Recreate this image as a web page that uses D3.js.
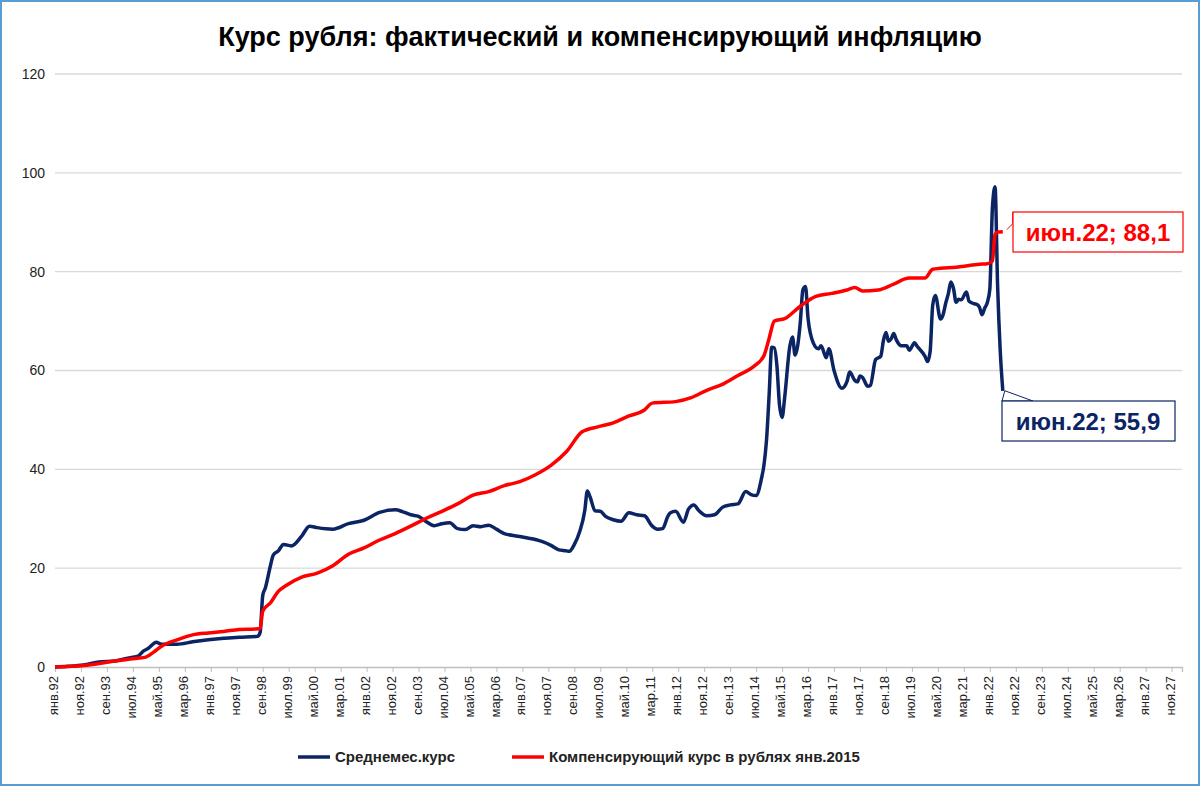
<!DOCTYPE html>
<html><head><meta charset="utf-8">
<script src="https://cdn.jsdelivr.net/npm/d3@7"></script>
<style>
body{margin:0;background:#fff;font-family:"Liberation Sans",Arial,sans-serif;}
</style></head>
<body><svg id="c" width="1200" height="786"></svg>
<script>
const START = new Date(1992, 0, 1);
const mIdx = s => { const [y, m] = s.split('-').map(Number); return (y - 1992) * 12 + (m - 1); };
const MONTHS = ['янв','фев','мар','апр','май','июн','июл','авг','сен','окт','ноя','дек'];

const blueDates = ['1992-01','1992-06','1992-12','1993-06','1993-12','1994-06','1994-09','1994-11','1995-01','1995-04','1995-06','1995-12','1996-06','1996-12','1997-06','1997-12','1998-07','1998-08','1998-09','1998-10','1998-12','1999-01','1999-03','1999-05','1999-08','1999-12','2000-03','2000-06','2000-12','2001-06','2001-12','2002-06','2002-12','2003-03','2003-06','2003-09','2003-12','2004-03','2004-06','2004-09','2004-12','2005-03','2005-06','2005-09','2005-12','2006-03','2006-06','2006-12','2007-03','2007-06','2007-09','2007-12','2008-03','2008-06','2008-07','2008-09','2008-11','2009-01','2009-02','2009-03','2009-05','2009-07','2009-09','2009-12','2010-03','2010-06','2010-09','2010-12','2011-03','2011-05','2011-07','2011-09','2011-10','2011-12','2012-03','2012-05','2012-07','2012-09','2012-12','2013-03','2013-06','2013-09','2013-12','2014-03','2014-05','2014-07','2014-09','2014-10','2014-11','2014-12','2015-01','2015-02','2015-03','2015-04','2015-05','2015-06','2015-08','2015-09','2015-10','2015-11','2015-12','2016-01','2016-02','2016-03','2016-05','2016-07','2016-08','2016-10','2016-11','2017-01','2017-04','2017-06','2017-07','2017-09','2017-10','2017-11','2017-12','2018-02','2018-03','2018-05','2018-07','2018-08','2018-09','2018-10','2018-11','2018-12','2019-01','2019-03','2019-05','2019-06','2019-08','2019-09','2019-12','2020-01','2020-02','2020-03','2020-04','2020-06','2020-07','2020-08','2020-09','2020-10','2020-11','2020-12','2021-01','2021-02','2021-04','2021-05','2021-07','2021-08','2021-09','2021-10','2021-11','2021-12','2022-01','2022-02','2022-03','2022-04','2022-05','2022-06'];
const blueVals = [0.0,0.13,0.4,1.0,1.2,1.9,2.2,3.2,3.8,5.0,4.6,4.6,5.1,5.5,5.8,6.0,6.2,7.0,14.5,16.0,20.6,22.6,23.5,24.8,24.5,26.5,28.5,28.2,27.9,29.0,29.7,31.3,31.8,31.4,30.8,30.5,29.4,28.6,29.0,29.2,28.0,27.8,28.6,28.4,28.7,27.9,27.0,26.4,26.1,25.8,25.3,24.6,23.7,23.5,23.4,24.8,27.3,31.6,35.6,34.5,31.6,31.5,30.5,29.8,29.5,31.2,30.8,30.6,28.5,27.9,28.0,30.5,31.2,31.5,29.3,32.0,32.8,31.6,30.6,30.8,32.3,32.8,33.0,35.5,34.9,34.7,38.0,40.8,45.9,55.0,64.7,64.6,61.0,53.0,50.5,54.6,65.0,66.8,63.1,65.0,69.7,76.3,77.0,70.5,65.6,64.4,65.0,62.6,64.4,60.0,56.4,57.8,59.7,58.0,57.7,58.9,58.6,56.8,57.0,62.2,62.9,66.0,67.7,65.9,66.4,67.5,66.2,65.0,65.0,64.1,65.6,64.9,62.9,61.8,63.8,73.2,75.2,70.4,71.3,73.6,75.5,77.9,76.6,73.8,74.4,74.3,75.9,74.0,73.5,73.4,72.8,71.3,72.6,73.7,76.5,93.0,97.2,77.0,64.0,55.9];

const redDates = ['1992-01','1992-12','1993-06','1993-12','1994-06','1994-12','1995-03','1995-06','1995-12','1996-06','1996-12','1997-06','1997-12','1998-06','1998-08','1998-09','1998-12','1999-03','1999-06','1999-12','2000-06','2000-12','2001-06','2001-12','2002-06','2002-12','2003-06','2003-12','2004-06','2004-12','2005-06','2005-12','2006-06','2006-12','2007-06','2007-12','2008-06','2008-12','2009-06','2009-12','2010-06','2010-12','2011-03','2011-12','2012-06','2012-12','2013-06','2013-12','2014-06','2014-10','2014-12','2015-02','2015-06','2015-12','2016-06','2016-12','2017-06','2017-09','2017-12','2018-06','2018-12','2019-06','2019-12','2020-03','2020-06','2020-12','2021-03','2021-09','2021-12','2022-02','2022-03','2022-04','2022-06'];
const redVals = [0.0,0.3,0.7,1.2,1.6,2.0,3.0,4.2,5.5,6.5,6.9,7.2,7.6,7.7,7.8,11.3,13.0,15.3,16.5,18.2,19.0,20.5,22.8,24.1,25.7,27.0,28.5,30.1,31.5,33.0,34.8,35.5,36.7,37.5,38.9,40.8,43.6,47.6,48.6,49.4,50.8,52.0,53.4,53.7,54.5,56.0,57.2,59.0,60.8,63.0,66.5,70.0,70.5,73.0,75.0,75.6,76.3,76.8,76.1,76.3,77.5,78.7,78.7,80.5,80.7,80.9,81.1,81.5,81.6,82.2,87.5,88.0,88.1];

const yTicks = [0, 20, 40, 60, 80, 100, 120];
const xTickMonths = d3.range(0, 431, 10);
const seriesNames = ['Среднемес.курс', 'Компенсирующий курс в рублях янв.2015'];
const title = 'Курс рубля: фактический и компенсирующий инфляцию';
const BLUE = '#0b2464', RED = '#ff0000';

const svg = d3.select('#c');
svg.append('rect').attr('x', 1).attr('y', 1).attr('width', 1198).attr('height', 784)
  .attr('fill', '#fff').attr('stroke', '#5b9bd5').attr('stroke-width', 2);

const m = { left: 55, right: 1182, top: 74, bottom: 667 };
const x = d3.scaleLinear().domain([0, 434]).range([m.left, m.right]);
const y = d3.scaleLinear().domain([0, 120]).range([m.bottom, m.top]);

svg.append('text').attr('x', 600).attr('y', 46).attr('text-anchor', 'middle')
  .attr('font-size', 27).attr('font-weight', 'bold').attr('fill', '#000').text(title);

// grid
svg.append('g').selectAll('line').data(yTicks.slice(1)).join('line')
  .attr('x1', m.left).attr('x2', m.right).attr('y1', d => y(d)).attr('y2', d => y(d))
  .attr('stroke', '#d9d9d9').attr('stroke-width', 1.3);

const ya = svg.append('g').attr('transform', `translate(${m.left - 4},0)`)
  .call(d3.axisLeft(y).tickValues(yTicks).tickSize(0).tickPadding(6));
ya.select('.domain').remove();
ya.selectAll('text').attr('font-size', 14).attr('fill', '#222').attr('font-family', '"Liberation Sans",Arial');

const xa = svg.append('g').attr('transform', `translate(0,${m.bottom})`)
  .call(d3.axisBottom(x).tickValues(xTickMonths).tickSize(5)
    .tickFormat(i => `${MONTHS[i % 12]}.${String((1992 + Math.floor(i / 12)) % 100).padStart(2, '0')}`));
xa.select('.domain').attr('stroke', '#bfbfbf').attr('stroke-width', 1.3);
xa.selectAll('line').attr('stroke', '#bfbfbf');
xa.selectAll('text').attr('font-size', 13).attr('fill', '#222').attr('font-family', '"Liberation Sans",Arial')
  .attr('text-anchor', 'end').attr('dy', '0.35em')
  .attr('transform', 'translate(-2,0) rotate(-90)').attr('x', -9).attr('y', 0);

const line = d3.line().x(d => x(d[0])).y(d => y(d[1])).curve(d3.curveMonotoneX);
const blue = blueDates.map((d, i) => [mIdx(d), blueVals[i]]);
const red = redDates.map((d, i) => [mIdx(d), redVals[i]]);

svg.append('path').datum(blue).attr('d', line).attr('fill', 'none')
  .attr('stroke', BLUE).attr('stroke-width', 3.5).attr('stroke-linejoin', 'round');
svg.append('path').datum(red).attr('d', line).attr('fill', 'none')
  .attr('stroke', RED).attr('stroke-width', 3.5).attr('stroke-linejoin', 'round');

// callouts
const lastR = red[red.length - 1], lastB = blue[blue.length - 1];
const rx = x(lastR[0]), ry = y(lastR[1]);
svg.append('path').attr('d', `M${rx + 4},${ry - 2} L${rx + 10},${ry - 8} L1013,212 L1013,222`)
  .attr('fill', 'none').attr('stroke', RED).attr('stroke-width', 1);
svg.append('rect').attr('x', 1013).attr('y', 212).attr('width', 170).attr('height', 40)
  .attr('fill', '#fff').attr('stroke', RED).attr('stroke-width', 1.2);
svg.append('text').attr('x', 1098).attr('y', 241).attr('text-anchor', 'middle')
  .attr('font-size', 24).attr('font-weight', 'bold').attr('fill', RED)
  .text(`июн.22; ${String(lastR[1]).replace('.', ',')}`);

const bx = x(lastB[0]), by = y(lastB[1]);
svg.append('path').attr('d', `M${bx + 2},${by} L1033,401 L1002,401 Z`)
  .attr('fill', '#fff').attr('stroke', BLUE).attr('stroke-width', 1);
svg.append('rect').attr('x', 1002).attr('y', 401).attr('width', 173).attr('height', 40)
  .attr('fill', '#fff').attr('stroke', BLUE).attr('stroke-width', 1.2);
svg.append('text').attr('x', 1088).attr('y', 430).attr('text-anchor', 'middle')
  .attr('font-size', 24).attr('font-weight', 'bold').attr('fill', BLUE)
  .text(`июн.22; ${String(lastB[1]).replace('.', ',')}`);

// legend
const leg = [{ x: 298, c: BLUE, t: seriesNames[0] }, { x: 512, c: RED, t: seriesNames[1] }];
leg.forEach(l => {
  svg.append('line').attr('x1', l.x).attr('x2', l.x + 32).attr('y1', 757).attr('y2', 757)
    .attr('stroke', l.c).attr('stroke-width', 3.5);
  svg.append('text').attr('x', l.x + 37).attr('y', 762).attr('font-size', 15)
    .attr('font-weight', 'bold').attr('fill', '#222').text(l.t);
});
</script></body></html>
